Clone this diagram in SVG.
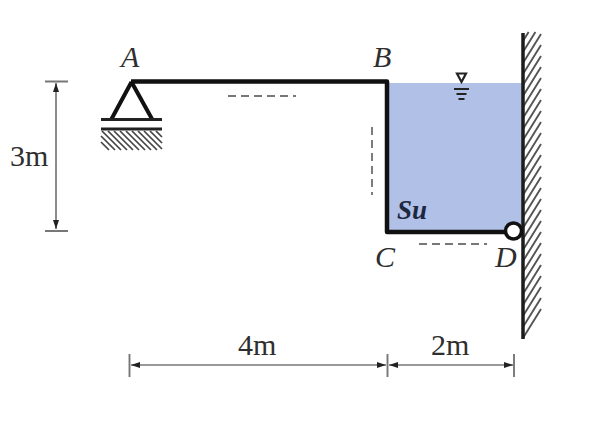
<svg xmlns="http://www.w3.org/2000/svg" width="612" height="432" viewBox="0 0 612 432">
<defs>
<marker id="arr" markerUnits="userSpaceOnUse" markerWidth="9" markerHeight="7" refX="9" refY="3.5" orient="auto-start-reverse"><path d="M0,0.5 L9,3.5 L0,6.500 Z" fill="#222"/></marker>
</defs>
<style>
text{font-family:"Liberation Serif","Times New Roman",serif;fill:#2e2e2e;font-size:30px}
.i{font-style:italic}
.beam{fill:none;stroke:#111;stroke-width:4.500;stroke-linejoin:round}
.dim{fill:none;stroke:#777;stroke-width:1.700}
.tick{stroke:#777;stroke-width:1.900}
.dash{fill:none;stroke:#777;stroke-width:1.900;stroke-dasharray:8 5}
.h{stroke:#555;stroke-width:1.900;fill:none}
</style>
<g id="water"><rect x="387" y="83" width="136" height="149" fill="#b0c0e6"/>
<path d="M457 73.500 L466 73.500 L461.500 82 Z" fill="#fff" stroke="#222" stroke-width="2.200"/>
<path d="M454 89 H469 M456.500 94 H466.500 M458.500 99 H464.500" stroke="#222" stroke-width="2.200" fill="none"/></g>
<g id="wall">
<path class="h" d="M523 338 L541 309 M523 327 L541 298 M523 316 L541 287 M523 305 L541 276 M523 294 L541 265 M523 283 L541 254 M523 272 L541 243 M523 261 L541 232 M523 250 L541 221 M523 239 L541 210 M523 228 L541 199 M523 217 L541 188 M523 206 L541 177 M523 195 L541 166 M523 184 L541 155 M523 173 L541 144 M523 162 L541 133 M523 151 L541 122 M523 140 L541 111 M523 129 L541 100 M523 118 L541 89 M523 107 L541 78 M523 96 L541 67 M523 85 L541 56 M523 74 L541 45 M523 63 L541 34 M523 52 L535.400 32 M523 41 L528.600 32"/>
<line x1="523" y1="33" x2="523" y2="339" stroke="#1c1c1c" stroke-width="3.500"/></g>
<g id="connectors">
<path class="beam" d="M131 81.500 H387 V232 H513"/>
<path class="dash" d="M228 96 H296"/>
<path class="dash" d="M372 127 V195"/>
<path class="dash" d="M419 244 H487"/>
<line class="dim" x1="56" y1="83" x2="56" y2="229" marker-start="url(#arr)" marker-end="url(#arr)"/>
<path class="tick" d="M45 81.500 H68 M45 231 H68"/>
<line class="dim" x1="131" y1="365" x2="386" y2="365" marker-start="url(#arr)" marker-end="url(#arr)"/>
<line class="dim" x1="389" y1="365" x2="513" y2="365" marker-start="url(#arr)" marker-end="url(#arr)"/>
<path class="tick" d="M129.500 354 V377 M387.500 354 V377 M514 354 V377"/>
</g>
<g id="node-A">
<path d="M131.500 82 L111.500 119 M131.500 82 L152 119" stroke="#111" stroke-width="4" fill="none"/>
<path d="M101 119.500 H162" stroke="#222" stroke-width="3.200"/>
<path d="M101 129 H162" stroke="#222" stroke-width="2.800"/>
<path d="M101 136 L115 150 M102 131 L121 150 M108 131 L127 150 M114 131 L133 150 M120 131 L139 150 M126 131 L145 150 M132 131 L151 150 M138 131 L157 150 M144 131 L162 149 M150 131 L162 143 M156 131 L162 137 M101 142 L109 150" stroke="#444" stroke-width="1.700"/>
<text class="i" x="121" y="67">A</text></g>
<g id="node-B"><text class="i" x="373" y="67">B</text></g>
<g id="node-C"><text class="i" x="375" y="267">C</text></g>
<g id="node-D"><circle cx="513.500" cy="231" r="8" fill="#fff" stroke="#111" stroke-width="3.500"/><text class="i" x="495" y="267">D</text></g>
<g id="labels">
<text x="397" y="219" style="font-style:italic;font-weight:bold;font-size:27px;fill:#1c2740">Su</text>
<text x="10" y="166">3m</text>
<text x="238" y="355">4m</text>
<text x="431" y="355">2m</text>
</g>
</svg>
